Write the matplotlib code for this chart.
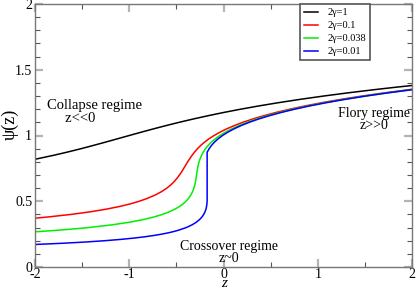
import matplotlib
matplotlib.use("Agg")
import matplotlib.pyplot as plt
from matplotlib.ticker import MultipleLocator, FormatStrFormatter

plt.rcParams['font.family'] = ['Liberation Serif', 'DejaVu Serif']
plt.rcParams['axes.unicode_minus'] = False

# psi(z) curves, one per 2*gamma value
z_g1 = [-2.001, -1.799, -1.650, -1.510, -1.378, -1.250, -1.125, -1.000, -0.874, -0.745,
        -0.612, -0.472, -0.324, -0.167, 0.001, 0.182, 0.376, 0.587, 0.814, 1.061,
        1.328, 1.617, 1.802, 2.010]
psi_g1 = [0.819, 0.85, 0.875, 0.90, 0.925, 0.95, 0.975, 1.00, 1.025, 1.05,
          1.075, 1.10, 1.125, 1.15, 1.175, 1.20, 1.225, 1.25, 1.275, 1.30,
          1.325, 1.35, 1.365, 1.381]

z_g01 = [-2.018, -1.869, -1.616, -1.411, -1.243, -1.104, -0.989, -0.894, -0.814, -0.717,
         -0.653, -0.601, -0.558, -0.523, -0.493, -0.467, -0.443, -0.422, -0.401, -0.380,
         -0.357, -0.333, -0.306, -0.276, -0.241, -0.200, -0.154, -0.100, -0.038, 0.032,
         0.113, 0.204, 0.308, 0.425, 0.556, 0.703, 0.866, 1.047, 1.248, 1.470,
         1.715, 1.983, 2.097]
psi_g01 = [0.37, 0.38, 0.40, 0.42, 0.44, 0.46, 0.48, 0.50, 0.52, 0.55,
           0.575, 0.60, 0.625, 0.65, 0.675, 0.70, 0.725, 0.75, 0.775, 0.80,
           0.825, 0.85, 0.875, 0.90, 0.925, 0.95, 0.975, 1.00, 1.025, 1.05,
           1.075, 1.10, 1.125, 1.15, 1.175, 1.20, 1.225, 1.25, 1.275, 1.30,
           1.325, 1.35, 1.36]

z_g0038 = [-2.014, -1.949, -1.751, -1.580, -1.432, -1.189, -1.002, -0.855, -0.740, -0.648,
           -0.574, -0.515, -0.467, -0.429, -0.398, -0.373, -0.345, -0.327, -0.314, -0.304,
           -0.297, -0.291, -0.286, -0.281, -0.275, -0.268, -0.259, -0.247, -0.232, -0.214,
           -0.191, -0.162, -0.128, -0.087, -0.038, 0.019, 0.086, 0.163, 0.251, 0.352,
           0.466, 0.594, 0.738, 0.900, 1.079, 1.278, 1.499, 1.741, 2.008]
psi_g0038 = [0.267, 0.27, 0.28, 0.29, 0.30, 0.32, 0.34, 0.36, 0.38, 0.40,
             0.42, 0.44, 0.46, 0.48, 0.50, 0.52, 0.55, 0.575, 0.60, 0.625,
             0.65, 0.675, 0.70, 0.725, 0.75, 0.775, 0.80, 0.825, 0.85, 0.875,
             0.90, 0.925, 0.95, 0.975, 1.00, 1.025, 1.05, 1.075, 1.10, 1.125,
             1.15, 1.175, 1.20, 1.225, 1.25, 1.275, 1.30, 1.325, 1.35]

z_g001 = [-2.040, -1.720, -1.465, -1.258, -1.089, -0.949, -0.833, -0.736, -0.655, -0.585,
          -0.526, -0.476, -0.395, -0.335, -0.289, -0.255, -0.229, -0.210, -0.196, -0.186,
          -0.180, -0.176, -0.174, -0.1737, -0.1737, -0.1719, -0.152, -0.127, -0.095, -0.057,
          -0.010, 0.045, 0.110, 0.185, 0.272, 0.371, 0.484, 0.611, 0.755, 0.915,
          1.094, 1.292, 1.511, 1.753, 2.020]
psi_g001 = [0.17, 0.18, 0.19, 0.20, 0.21, 0.22, 0.23, 0.24, 0.25, 0.26,
            0.27, 0.28, 0.30, 0.32, 0.34, 0.36, 0.38, 0.40, 0.42, 0.44,
            0.46, 0.48, 0.50, 0.52, 0.872, 0.875, 0.90, 0.925, 0.95, 0.975,
            1.00, 1.025, 1.05, 1.075, 1.10, 1.125, 1.15, 1.175, 1.20, 1.225,
            1.25, 1.275, 1.30, 1.325, 1.35]

labels = ["2γ=1", "2γ=0.1", "2γ=0.038", "2γ=0.01"]
colors = ["black", "red", "#00ee00", "blue"]

fig = plt.figure(figsize=(4.16, 2.90), dpi=100)
ax = fig.add_axes([35/416, 23/290, 377/416, 263/290])

series = [(z_g1, psi_g1), (z_g01, psi_g01), (z_g0038, psi_g0038), (z_g001, psi_g001)]
for (zz, pp), lab, col in zip(series, labels, colors):
    ax.plot(zz, pp, color=col, lw=1.1, label=lab)

ax.set_xlim(-2, 2)
ax.set_ylim(0, 2)
ax.xaxis.set_major_locator(MultipleLocator(1))
ax.xaxis.set_minor_locator(MultipleLocator(0.5))
ax.yaxis.set_major_locator(MultipleLocator(0.5))
ax.yaxis.set_minor_locator(MultipleLocator(0.1))
ax.xaxis.set_major_formatter(FormatStrFormatter('%g'))
ax.yaxis.set_major_formatter(FormatStrFormatter('%g'))
ax.tick_params(which='both', direction='in', top=True, right=True, labelsize=10)
ax.tick_params(axis='x', pad=0.5)
ax.tick_params(axis='y', pad=2)
ax.tick_params(which='major', length=6, width=1.6, color='#b4b4b4')
ax.tick_params(which='minor', length=3.5, width=0.8, color='#555555')
for s in ax.spines.values():
    s.set_color('#777777')
    s.set_linewidth(1.0)

# axis titles placed by hand so they stay inside the small canvas
fig.text(224/416, 0.0, "z", fontsize=11, style='italic', ha='center', va='bottom')
fig.text(1/416, (290-124)/290, "ψ(z)", fontsize=13, rotation=90, ha='left', va='center')

ax.text(-1.876, 1.18, "Collapse regime\n     z<<0", fontsize=10.5, ha='left', va='center',
        linespacing=0.95)
ax.text(1.975, 1.12, "Flory regime\nz>>0", fontsize=10, ha='right', va='center',
        multialignment='center', linespacing=0.95)
ax.text(0.058, 0.112, "Crossover regime\nz~0", fontsize=10, ha='center', va='center',
        linespacing=0.95)

leg = ax.legend(loc='upper left', bbox_to_anchor=(0.703, 1.0), borderaxespad=0,
                fontsize=7.5, fancybox=False, edgecolor='#555555', framealpha=1,
                handlelength=1.35, handletextpad=0.85, labelspacing=0.35, borderpad=0.4)
leg.get_frame().set_linewidth(1.2)

fig.savefig("out.png", dpi=100)
